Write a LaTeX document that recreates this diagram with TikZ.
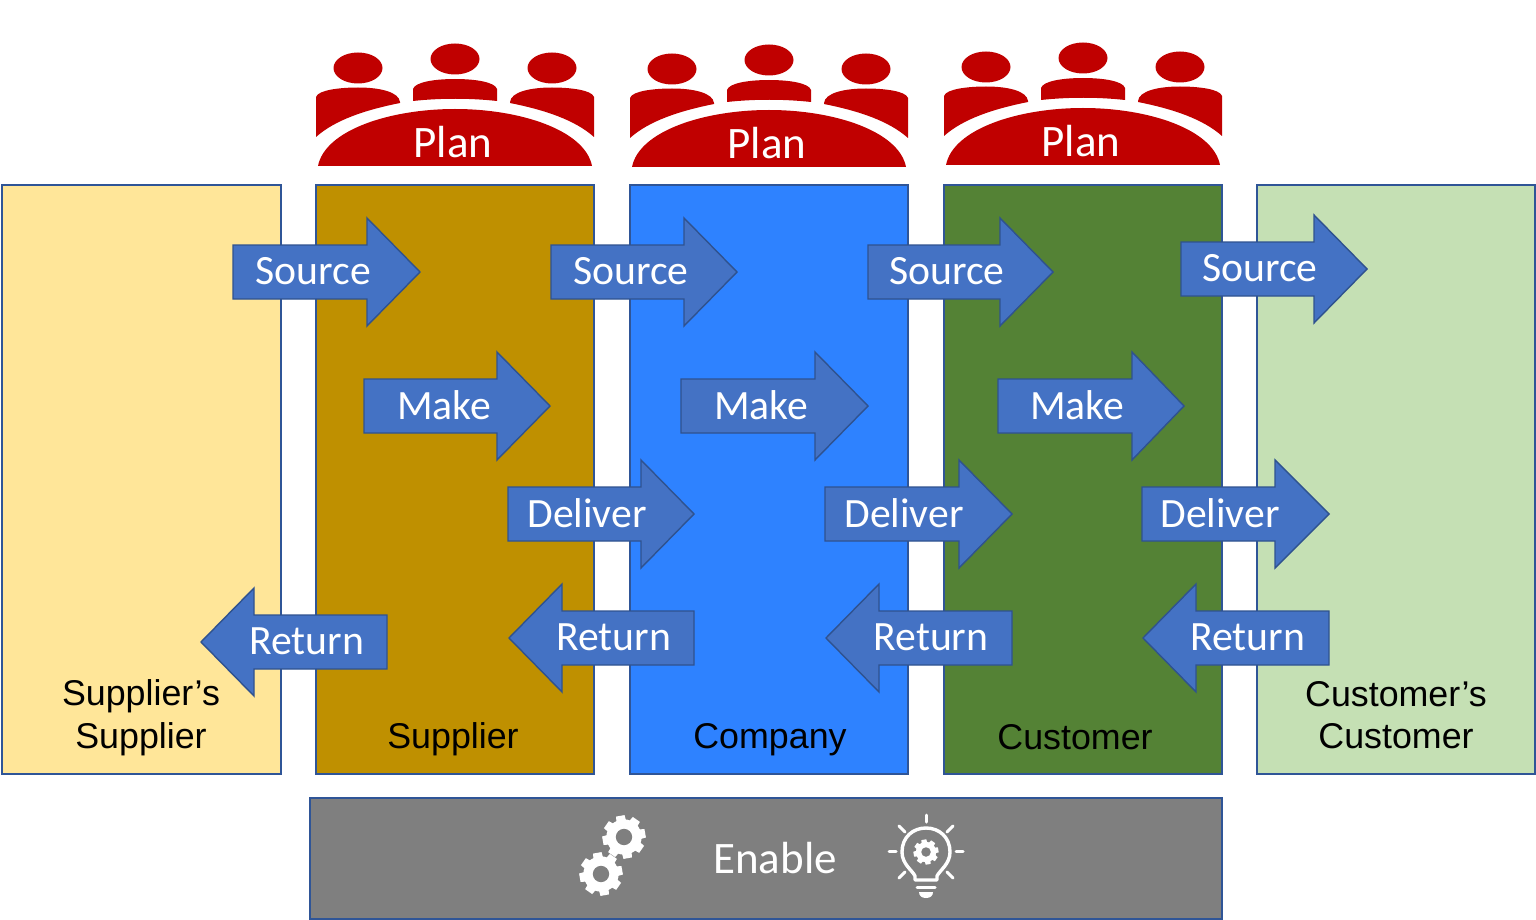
\documentclass[tikz,border=0pt]{standalone}
\usepackage{fontspec}
\setmainfont{Carlito}
\newfontfamily\blackfont{Liberation Sans}
\definecolor{edgeblue}{HTML}{2F5597}
\definecolor{arrowfill}{HTML}{4472C4}
\definecolor{arrowedge}{HTML}{2F528F}
\definecolor{planred}{HTML}{C00000}
\definecolor{cpale}{HTML}{FFE699}
\definecolor{cgold}{HTML}{BF9000}
\definecolor{cblue}{HTML}{2E82FF}
\definecolor{cgreen}{HTML}{548235}
\definecolor{clight}{HTML}{C5E0B4}
\definecolor{cgray}{HTML}{7F7F7F}
\tikzset{
  column/.style={draw=edgeblue,line width=1.6pt},
  flowarrow/.style={fill=arrowfill,draw=arrowedge,line width=1.4pt,line join=miter},
  flowtext/.style={text=white,font=\fontsize{41.7}{42}\selectfont,inner sep=0pt,anchor=center,yshift=1pt},
  bigtext/.style={text=white,font=\fontsize{45}{45}\selectfont,inner sep=0pt,anchor=center},
  blacktext/.style={text=black,font=\blackfont\fontsize{35.8}{42.5}\selectfont,inner sep=0pt,align=center,anchor=center},
  planfill/.style={fill=planred,draw=none},
  whiteline/.style={draw=white,line width=3pt,line cap=round},
}
\newcommand{\arrowshape}[7]{% name, tail x, head x, tip, center y, label x, label
  \draw[flowarrow] (#2,#5-27) -- (#3,#5-27) -- (#3,#5-54) -- (#4,#5) -- (#3,#5+54) -- (#3,#5+27) -- (#2,#5+27) -- cycle;
  \node[flowtext] (#1) at (#6,#5) {#7};}
\newcommand{\planicon}[5]{% name, center x, dy, text x, text y
  \begin{scope}[shift={(#2,#3)}]
    \fill[planfill] (0,59) ellipse (24.5 and 15.5);
    \fill[planfill] (-97,68) ellipse (24.5 and 15.5);
    \fill[planfill] (97,68) ellipse (24.5 and 15.5);
    \fill[planfill] (-42,101) -- (-42,89) .. controls (-40,82) and (-20,79) .. (0,79)
       .. controls (20,79) and (40,82) .. (42,89) -- (42,101) .. controls (15,98) and (-15,98) .. (-42,101) -- cycle;
    \fill[planfill] (-139,137) -- (-139,97) .. controls (-137,90) and (-115,87.5) .. (-97,87.5)
       .. controls (-75,87.5) and (-56,92) .. (-55,102) -- (-55,103) .. controls (-90,110) and (-120,120) .. (-139,137) -- cycle;
    \fill[planfill] (139,137) -- (139,97) .. controls (137,90) and (115,87.5) .. (97,87.5)
       .. controls (75,87.5) and (56,92) .. (55,102) -- (55,103) .. controls (90,110) and (120,120) .. (139,137) -- cycle;
    \fill[planfill] (-137,166) .. controls (-130,130) and (-65,109) .. (0,109)
       .. controls (65,109) and (130,130) .. (137,166) -- cycle;
  \end{scope}
  \node[bigtext] (#1) at (#4,#5) {Plan};}
\newcommand{\gearicon}[3]{% x, y, radius
  \fill[white] (#1,#2) circle ({#3*0.82});
  \foreach \a in {0,45,...,315}
    \fill[white,rotate around={\a+10:(#1,#2)}] ({#1-#3*0.3},#2) -- ({#1-#3*0.2},{#2-#3}) -- ({#1+#3*0.2},{#2-#3}) -- ({#1+#3*0.3},#2) -- cycle;
  \fill[cgray] (#1,#2) circle ({#3*0.38});}
\begin{document}
\begin{tikzpicture}[x=1pt,y=-1pt]
\useasboundingbox (0,0) rectangle (1536,920);
% columns
\draw[column,fill=cpale] (2,185) rectangle (281,774);
\draw[column,fill=cgold] (316,185) rectangle (594,774);
\draw[column,fill=cblue] (630,185) rectangle (908,774);
\draw[column,fill=cgreen] (944,185) rectangle (1222,774);
\draw[column,fill=clight] (1257,185) rectangle (1535,774);
\draw[column,fill=cgray] (310,798) rectangle (1222,919);
% plan icons
\planicon{plan1}{455}{0}{453}{142}
\planicon{plan2}{769}{1}{767}{143}
\planicon{plan3}{1083}{-1}{1081}{141}
% column labels
\node[blacktext] (ss) at (141,717.5) {Supplier’s\\Supplier};
\node[blacktext] (sup) at (453,739) {Supplier};
\node[blacktext] (comp) at (770,740) {Company};
\node[blacktext] (cust) at (1075,737) {Customer};
\node[blacktext] (cc) at (1396,715) {Customer’s\\Customer};
% arrows
\arrowshape{source1}{233}{367}{420}{272}{313.5}{Source}
\arrowshape{source2}{551}{684}{737}{272}{631}{Source}
\arrowshape{source3}{868}{1000}{1053}{272}{947}{Source}
\arrowshape{source4}{1181}{1314}{1367}{269}{1260}{Source}
\arrowshape{make1}{364}{497}{550}{406}{444}{Make}
\arrowshape{make2}{681}{815}{868}{406}{761}{Make}
\arrowshape{make3}{998}{1132}{1184}{406}{1077}{Make}
\arrowshape{deliver1}{508}{641}{694}{514}{587}{Deliver}
\arrowshape{deliver2}{825}{959}{1012}{514}{904}{Deliver}
\arrowshape{deliver3}{1142}{1275}{1329}{514}{1220}{Deliver}
\arrowshape{return1}{387}{254}{201}{642}{306.5}{Return}
\arrowshape{return2}{694}{562}{509}{638}{613.5}{Return}
\arrowshape{return3}{1012}{879}{826}{638}{931}{Return}
\arrowshape{return4}{1329}{1196}{1143}{638}{1247.5}{Return}
% enable
\node[bigtext] (enable) at (775,858) {Enable};
\gearicon{624}{837}{21.5}
\gearicon{601}{874}{21.5}
% bulb
\draw[white,line width=3.4pt,line join=round] (915,880) -- (915,876) .. controls (912,870) and (902,864) .. (902,852)
  .. controls (902,837) and (913,828) .. (926,828) .. controls (939,828) and (950,837) .. (950,852)
  .. controls (950,864) and (940,870) .. (937,876) -- (937,880) -- cycle;
\gearicon{926}{852}{12.5}
\draw[whiteline] (917,887) -- (935,887);
\fill[white] (919,892) -- (933,892) .. controls (933,896) and (930,898) .. (926,898) .. controls (922,898) and (919,896) .. (919,892) -- cycle;
\draw[whiteline] (926,815) -- (926,822);
\draw[whiteline] (889,851) -- (896,851);
\draw[whiteline] (956,851) -- (963,851);
\draw[whiteline] (899,826) -- (905,832);
\draw[whiteline] (953,826) -- (947,832);
\draw[whiteline] (899,878) -- (905,872);
\draw[whiteline] (953,878) -- (947,872);
\end{tikzpicture}
\end{document}
